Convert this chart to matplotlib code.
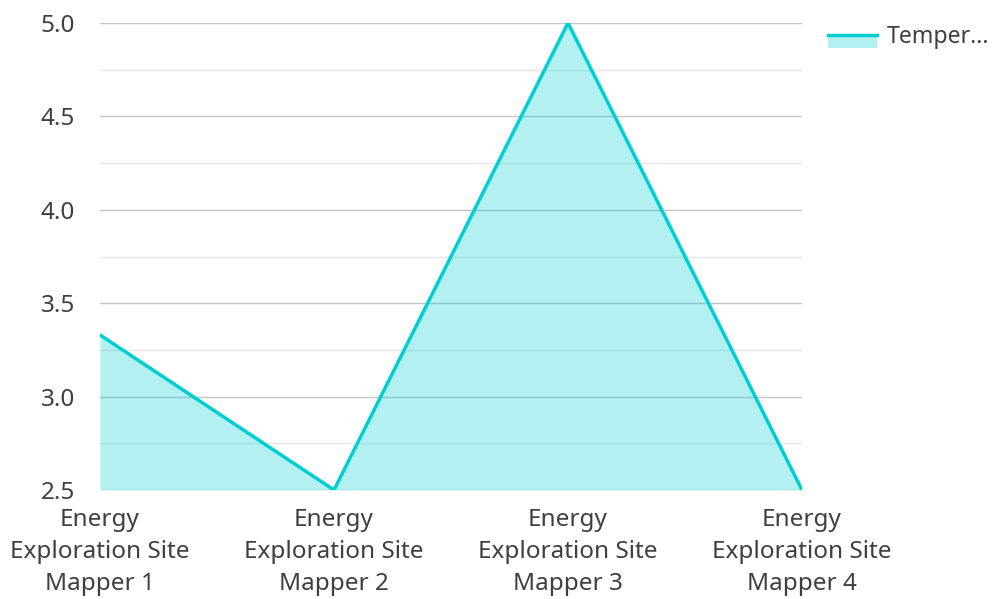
import matplotlib
matplotlib.use('Agg')
import matplotlib.pyplot as plt
from matplotlib.patches import Rectangle
from matplotlib.lines import Line2D

categories = ["Energy\nExploration Site\nMapper 1", "Energy\nExploration Site\nMapper 2",
              "Energy\nExploration Site\nMapper 3", "Energy\nExploration Site\nMapper 4"]
values = [3.33, 2.5, 5.0, 2.5]
series_name = "Temper..."
y_ticks = [2.5, 3.0, 3.5, 4.0, 4.5, 5.0]

line_color = "#00CED1"
text_color = "#3f3f3f"

plt.rcParams['font.family'] = ['Noto Sans', 'DejaVu Sans']

W, H = 992, 599
fig = plt.figure(figsize=(W / 100, H / 100), dpi=100)
ax = fig.add_axes([100 / W, 1 - 490 / H, 702 / W, 467 / H])

x = list(range(len(values)))
ax.fill_between(x, values, 2.5, color=line_color, alpha=0.3, linewidth=0, zorder=2)
ax.plot(x, values, color=line_color, linewidth=2.5, zorder=3, solid_joinstyle='miter')

ax.set_xlim(0, len(values) - 1)
ax.set_ylim(2.5, 5.0)
ax.set_yticks(y_ticks)
ax.set_yticklabels([f"{v:.1f}" for v in y_ticks])
ax.set_yticks([2.75, 3.25, 3.75, 4.25, 4.75], minor=True)
ax.set_xticks(x)
ax.set_xticklabels(categories, linespacing=1.45)

ax.grid(axis='y', which='major', color='#c4c4c4', linewidth=1, zorder=1)
ax.grid(axis='y', which='minor', color='#e6e6e6', linewidth=1, zorder=1)
ax.set_axisbelow(True)
for s in ax.spines.values():
    s.set_visible(False)
ax.tick_params(axis='both', which='both', length=0, labelsize=17.5, labelcolor=text_color)
ax.tick_params(axis='y', pad=18)
ax.tick_params(axis='x', pad=13)

# legend drawn in figure coords
fig.add_artist(Rectangle((828 / W, 1 - 48 / H), 49 / W, 14 / H, transform=fig.transFigure,
                         facecolor=line_color, alpha=0.3, linewidth=0))
fig.add_artist(Line2D([828 / W, 877 / W], [1 - 35 / H, 1 - 35 / H], transform=fig.transFigure,
                      color=line_color, linewidth=2.5))
fig.text(887 / W, 1 - 37 / H, series_name, fontsize=16.6, color=text_color, va='center', ha='left')

fig.savefig('out.png', dpi=100)
